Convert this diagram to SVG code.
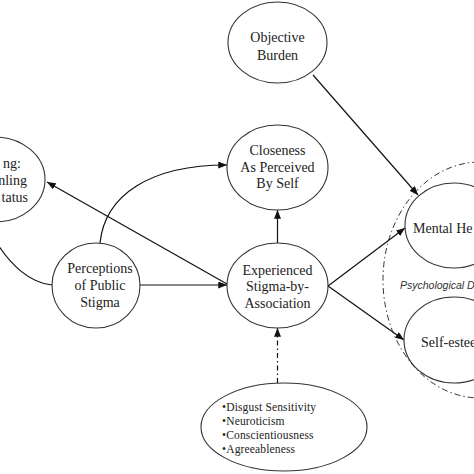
<svg xmlns="http://www.w3.org/2000/svg" width="474" height="474" viewBox="0 0 474 474">
<style>
.node ellipse{fill:#fff;stroke:#333;stroke-width:1.1}
.lbl{font-family:"Liberation Serif","Times New Roman",serif;font-size:14px;fill:#222;text-anchor:middle}
.bul{font-family:"Liberation Serif","Times New Roman",serif;font-size:11.5px;fill:#222;letter-spacing:0.15px}
.it{font-family:"Liberation Sans",Arial,sans-serif;font-style:italic;font-size:10.5px;fill:#333}
.c{fill:none;stroke:#111;stroke-width:1.2}
</style>
<defs>
<marker id="ah" viewBox="0 0 10 8" refX="10" refY="4" markerWidth="9" markerHeight="7" markerUnits="userSpaceOnUse" orient="auto">
<path d="M0,0 L10,4 L0,8 z" fill="#111"/>
</marker>
</defs>
<rect width="474" height="474" fill="#fff"/>

<g id="group-psych">
<ellipse cx="480" cy="280" rx="97" ry="118" fill="none" stroke="#333" stroke-width="1" stroke-dasharray="6,3,1.5,3"/>
<text class="it" x="400" y="289">Psychological D</text>
</g>

<g id="connectors">
<line class="c" x1="140" y1="285" x2="227" y2="285" marker-end="url(#ah)"/>
<line class="c" x1="227" y1="284" x2="47" y2="182" marker-end="url(#ah)"/>
<path class="c" d="M100,243 C105,195 150,165 227,165" marker-end="url(#ah)"/>
<path class="c" d="M52,285 C30,283 10,265 -5,240"/>
<line class="c" x1="277.5" y1="243" x2="277.5" y2="210" stroke="#666" marker-end="url(#ah)"/>
<line class="c" x1="277.5" y1="383" x2="277.5" y2="328" stroke-dasharray="5,3,1.5,3" marker-end="url(#ah)"/>
<line class="c" x1="328" y1="286" x2="405" y2="228" marker-end="url(#ah)"/>
<line class="c" x1="328" y1="286" x2="404" y2="340" marker-end="url(#ah)"/>
<line class="c" x1="313" y1="75" x2="418" y2="195" marker-end="url(#ah)"/>
</g>

<g id="node-left" class="node">
<ellipse cx="-5" cy="179.5" rx="50" ry="42.5"/>
<text class="lbl" style="text-anchor:end" x="21" y="168">ng:</text>
<text class="lbl" style="text-anchor:end" x="27" y="185">nling</text>
<text class="lbl" style="text-anchor:end" x="28" y="202">tatus</text>
</g>

<g id="node-objective" class="node">
<ellipse cx="277.5" cy="42.5" rx="49.5" ry="40.5"/>
<text class="lbl" x="277.5" y="42">Objective</text>
<text class="lbl" x="277.5" y="60">Burden</text>
</g>

<g id="node-closeness" class="node">
<ellipse cx="277.5" cy="167.5" rx="50.5" ry="42.5"/>
<text class="lbl" x="277.5" y="155">Closeness</text>
<text class="lbl" x="277.5" y="172">As Perceived</text>
<text class="lbl" x="277.5" y="188">By Self</text>
</g>

<g id="node-perceptions" class="node">
<ellipse cx="96" cy="285.5" rx="44" ry="42.5"/>
<text class="lbl" x="100" y="273">Perceptions</text>
<text class="lbl" x="100" y="290">of Public</text>
<text class="lbl" x="100" y="307">Stigma</text>
</g>

<g id="node-experienced" class="node">
<ellipse cx="277.5" cy="285.5" rx="50.5" ry="42.5"/>
<text class="lbl" x="277.5" y="275">Experienced</text>
<text class="lbl" x="277.5" y="291">Stigma-by-</text>
<text class="lbl" x="277.5" y="308">Association</text>
</g>

<g id="node-traits" class="node">
<ellipse cx="284" cy="427" rx="83" ry="44"/>
<text class="bul" x="222" y="411">•Disgust Sensitivity</text>
<text class="bul" x="222" y="425">•Neuroticism</text>
<text class="bul" x="222" y="439">•Conscientiousness</text>
<text class="bul" x="222" y="453">•Agreeableness</text>
</g>

<g id="node-mental" class="node">
<ellipse cx="454" cy="225.5" rx="49" ry="42.5"/>
<text class="lbl" style="text-anchor:start" x="413" y="233">Mental He</text>
</g>

<g id="node-selfesteem" class="node">
<ellipse cx="454" cy="340" rx="50" ry="43"/>
<text class="lbl" style="text-anchor:start" x="421" y="347">Self-estee</text>
</g>
</svg>
